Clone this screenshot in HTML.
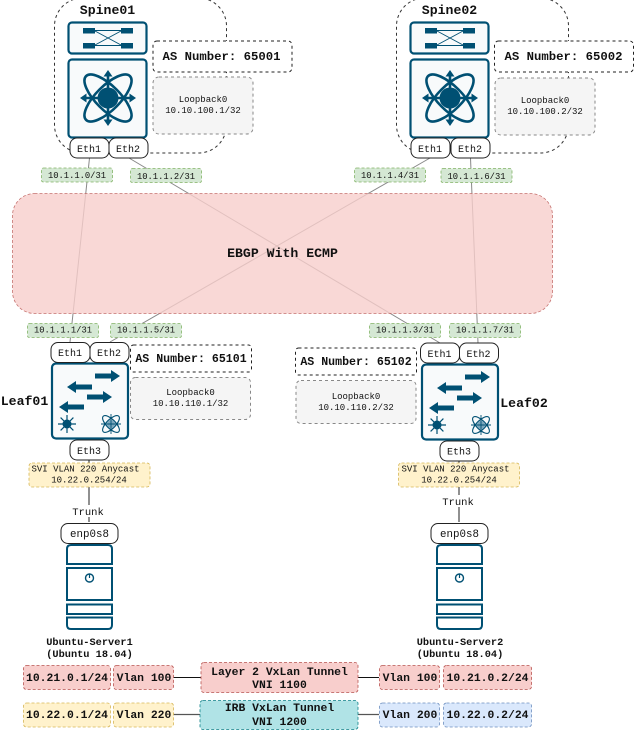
<!DOCTYPE html>
<html><head><meta charset="utf-8"><style>
html,body{margin:0;padding:0;background:#fff;width:635px;height:730px;overflow:hidden}
svg{display:block}
text{font-family:"Liberation Mono",monospace;text-anchor:middle;fill:#111}
.b{font-weight:bold;fill:#111}
.ic{fill:#005073;stroke:none}
.il{fill:none;stroke:#005073}
.eth{fill:#fff;stroke:#222;stroke-width:1}
.as{fill:#fff;stroke:#222;stroke-width:1;stroke-dasharray:3 3}
.lb{fill:#f5f5f5;stroke:#888;stroke-width:1;stroke-dasharray:3 3}
.g{fill:#d5e8d4;stroke:#82b366;stroke-width:.8;stroke-dasharray:3 2}
.y{fill:#fff2cc;stroke:#d6b656;stroke-width:.8;stroke-dasharray:3 2}
.p{fill:#f8cecc;stroke:#b85450;stroke-width:.8;stroke-dasharray:3 2}
.t{fill:#b0e3e6;stroke:#0e8088;stroke-width:.8;stroke-dasharray:3 2}
.u{fill:#dae8fc;stroke:#6c8ebf;stroke-width:.8;stroke-dasharray:3 2}
</style></head><body>
<svg width="635" height="730" viewBox="0 0 635 730" xmlns="http://www.w3.org/2000/svg">
<defs>
<g id="spine">
<rect x="68.500" y="22.500" width="78" height="31" rx="3.500" fill="#f8fafb" stroke="#005073" stroke-width="2.200"/>
<rect x="83" y="28" width="12" height="5.500" class="ic"/><rect x="83" y="43" width="12" height="5.500" class="ic"/>
<rect x="121" y="28" width="12" height="5.500" class="ic"/><rect x="121" y="43" width="12" height="5.500" class="ic"/>
<path d="M95 30.500H121M95 45.500H121M95 31L121 45M95 45L121 31" class="il" stroke-width=".9"/>
<rect x="68.500" y="59.500" width="78" height="78" rx="3.500" fill="#f8fafb" stroke="#005073" stroke-width="2.200"/>
<g transform="translate(108 98)">
<ellipse rx="31" ry="12" transform="rotate(45)" class="il" stroke-width="2.600"/>
<ellipse rx="31" ry="12" transform="rotate(-45)" class="il" stroke-width="2.600"/>
<circle r="10.500" class="ic"/>
<path d="M-23 0H23M0 -23V23" class="il" stroke-width="2.600"/>
<path d="M-28 0L-21.500 -4.500V4.500ZM28 0L21.500 -4.500V4.500ZM0 -28L-4.500 -21.500H4.500ZM0 28L-4.500 21.500H4.500Z" class="ic"/>
</g>
</g>
<g id="leaf">
<rect x="52" y="363.500" width="76" height="75" rx="4" fill="#f8fafb" stroke="#005073" stroke-width="2.200"/>
<path d="M95 373.500H111V370L120 376L111 382V378.500H95ZM92 384.500H76V381L67 387L76 393V389.500H92ZM87 394.500H103V391L112 397L103 403V399.500H87ZM84 404.500H68V401L59 407L68 413V409.500H84Z" class="ic"/>
<circle cx="67" cy="424" r="4.500" class="ic"/>
<path d="M58 424H76M67 415V433M60.600 417.600L73.400 430.400M60.600 430.400L73.400 417.600" class="il" stroke-width="1.200"/>
<g transform="translate(111 424)">
<ellipse rx="11" ry="4.500" transform="rotate(45)" class="il" stroke-width="1.100"/>
<ellipse rx="11" ry="4.500" transform="rotate(-45)" class="il" stroke-width="1.100"/>
<circle r="4" fill="#7ba7bd"/>
<path d="M-10 0H10M0 -10V10" class="il" stroke-width=".9"/>
</g>
</g>
<g id="server">
<path d="M67 564V549Q67 545 71 545H108Q112 545 112 549V564ZM67 568H112V600H67ZM67 604.500H112V614H67ZM67 617.500H112V625Q112 629 108 629H71Q67 629 67 625Z" fill="#fff" stroke="#005073" stroke-width="2"/>
<circle cx="89.500" cy="578" r="4" fill="none" stroke="#005073" stroke-width="1.400"/>
<path d="M89.500 574V578" class="il" stroke-width="1.200"/>
</g>
</defs>

<!-- spine group outlines -->
<rect x="54.500" y="-2" width="172" height="155" rx="28" fill="#fff" stroke="#333" stroke-width="1" stroke-dasharray="3 3"/>
<rect x="396.500" y="-2" width="172" height="155" rx="28" fill="#fff" stroke="#333" stroke-width="1" stroke-dasharray="3 3"/>

<!-- fabric: links pass beneath the translucent EBGP region -->
<path d="M89.500 158L70 342M129 158L440 343M430 158L110 342M470.500 158L478 343" fill="none" stroke="#888" stroke-width="1"/>
<rect x="12.500" y="193.500" width="540" height="120" rx="22" fill="#f8cecc" fill-opacity=".8" stroke="#b85450" stroke-opacity=".8" stroke-width=".8" stroke-dasharray="3 2"/>
<text x="282.500" y="257" font-size="13.200" class="b">EBGP With ECMP</text>

<!-- spines -->
<use href="#spine"/>
<use href="#spine" x="342"/>
<text x="107.500" y="14" font-size="13.200" class="b">Spine01</text>
<text x="449.500" y="14" font-size="13.200" class="b">Spine02</text>
<rect x="153" y="41" width="139" height="31" rx="4" class="as"/>
<text x="221.500" y="60" font-size="12.300" class="b">AS Number: 65001</text>
<rect x="494.500" y="41" width="139" height="31" rx="4" class="as"/>
<text x="563.500" y="60" font-size="12.300" class="b">AS Number: 65002</text>
<rect x="153" y="77" width="100" height="57" rx="6" class="lb"/>
<text x="203" y="102" font-size="9">Loopback0</text><text x="203" y="113" font-size="9">10.10.100.1/32</text>
<rect x="495" y="78" width="100" height="57" rx="6" class="lb"/>
<text x="545" y="103" font-size="9">Loopback0</text><text x="545" y="114" font-size="9">10.10.100.2/32</text>

<rect x="70" y="138" width="39" height="20" rx="7" class="eth"/><text x="89" y="152" font-size="10">Eth1</text>
<rect x="109" y="138" width="39" height="20" rx="7" class="eth"/><text x="128" y="152" font-size="10">Eth2</text>
<rect x="411" y="138" width="39" height="20" rx="7" class="eth"/><text x="430" y="152" font-size="10">Eth1</text>
<rect x="451" y="138" width="39" height="20" rx="7" class="eth"/><text x="470" y="152" font-size="10">Eth2</text>

<!-- IP tags -->
<rect x="41.500" y="168" width="71" height="14" rx="2" class="g"/><text x="77" y="178" font-size="8.800">10.1.1.0/31</text>
<rect x="130.500" y="168.500" width="71" height="14" rx="2" class="g"/><text x="166" y="179" font-size="8.800">10.1.1.2/31</text>
<rect x="354.500" y="168" width="71" height="14" rx="2" class="g"/><text x="390" y="178" font-size="8.800">10.1.1.4/31</text>
<rect x="441" y="168.500" width="71" height="14" rx="2" class="g"/><text x="476.500" y="179" font-size="8.800">10.1.1.6/31</text>
<rect x="27.500" y="323.500" width="71" height="14" rx="2" class="g"/><text x="63" y="332.500" font-size="8.800">10.1.1.1/31</text>
<rect x="110.500" y="323.500" width="71" height="14" rx="2" class="g"/><text x="146" y="332.500" font-size="8.800">10.1.1.5/31</text>
<rect x="369.500" y="323.500" width="71" height="14" rx="2" class="g"/><text x="405" y="332.500" font-size="8.800">10.1.1.3/31</text>
<rect x="449.500" y="323.500" width="71" height="14" rx="2" class="g"/><text x="485" y="332.500" font-size="8.800">10.1.1.7/31</text>

<!-- leaves -->
<path d="M89 460V522M459 461V522" stroke="#222" stroke-width="1" fill="none"/>
<use href="#leaf"/>
<use href="#leaf" x="370" y="1"/>
<text x="24.500" y="405" font-size="13.200" class="b">Leaf01</text>
<text x="524" y="407" font-size="13.200" class="b">Leaf02</text>
<rect x="51" y="342.500" width="39" height="20" rx="7" class="eth"/><text x="70" y="356" font-size="10">Eth1</text>
<rect x="90" y="342.500" width="39" height="20" rx="7" class="eth"/><text x="109" y="356" font-size="10">Eth2</text>
<rect x="420.500" y="343" width="39" height="20" rx="7" class="eth"/><text x="439.500" y="357" font-size="10">Eth1</text>
<rect x="459.500" y="343" width="39" height="20" rx="7" class="eth"/><text x="478.500" y="357" font-size="10">Eth2</text>
<rect x="70" y="440" width="39" height="20" rx="7" class="eth"/><text x="89" y="454" font-size="10">Eth3</text>
<rect x="440" y="441" width="39" height="20" rx="7" class="eth"/><text x="459" y="454.500" font-size="10">Eth3</text>

<rect x="130.500" y="345" width="121" height="27" rx="3" class="as"/>
<text x="191" y="362" font-size="11.600" class="b">AS Number: 65101</text>
<rect x="295.500" y="348" width="121" height="27" rx="3" class="as"/>
<text x="356" y="365" font-size="11.600" class="b">AS Number: 65102</text>
<rect x="130.500" y="377.500" width="120" height="42" rx="5" class="lb"/>
<text x="190.500" y="395" font-size="9">Loopback0</text><text x="190.500" y="406" font-size="9">10.10.110.1/32</text>
<rect x="296" y="380.500" width="120" height="43" rx="5" class="lb"/>
<text x="356" y="399" font-size="9">Loopback0</text><text x="356" y="410" font-size="9">10.10.110.2/32</text>

<rect x="29" y="463" width="121" height="24" rx="3" class="y"/>
<text x="85.500" y="471.500" font-size="9">SVI VLAN 220 Anycast</text><text x="89" y="482.500" font-size="9">10.22.0.254/24</text>
<rect x="398.500" y="463" width="121" height="24" rx="3" class="y"/>
<text x="455.500" y="471.500" font-size="9">SVI VLAN 220 Anycast</text><text x="459" y="482.500" font-size="9">10.22.0.254/24</text>

<!-- Trunk labels -->
<rect x="70" y="505" width="36" height="12" fill="#fff"/>
<text x="88" y="515" font-size="10.500">Trunk</text>
<rect x="440" y="495" width="36" height="12" fill="#fff"/>
<text x="458" y="505" font-size="10.500">Trunk</text>

<!-- servers -->
<use href="#server"/>
<use href="#server" x="370"/>
<rect x="61" y="523.500" width="57" height="20" rx="7" class="eth"/><text x="89.500" y="537" font-size="10.800">enp0s8</text>
<rect x="431" y="523.500" width="57" height="20" rx="7" class="eth"/><text x="459.500" y="537" font-size="10.800">enp0s8</text>
<text x="89.500" y="645" font-size="10.300" class="b">Ubuntu-Server1</text><text x="89.500" y="657" font-size="10.300" class="b">(Ubuntu 18.04)</text>
<text x="460" y="645" font-size="10.300" class="b">Ubuntu-Server2</text><text x="460" y="657" font-size="10.300" class="b">(Ubuntu 18.04)</text>

<!-- bottom table -->
<path d="M173 677.500H201M358 677.500H379" stroke="#111" stroke-width="1" fill="none"/>
<path d="M173 714.500H200M358 714.500H379" stroke="#555" stroke-width="1.200" fill="none"/>
<rect x="23.500" y="665.500" width="87" height="24" rx="3" class="p"/><text x="67" y="681" font-size="11.400" class="b">10.21.0.1/24</text>
<rect x="113.500" y="665.500" width="60" height="24" rx="3" class="p"/><text x="144" y="681" font-size="11.400" class="b">Vlan 100</text>
<rect x="201" y="662.500" width="157" height="30" rx="3" class="p"/>
<text x="279.500" y="675" font-size="11.400" class="b">Layer 2 VxLan Tunnel</text><text x="279.500" y="688" font-size="11.400" class="b">VNI 1100</text>
<rect x="379.500" y="665.500" width="60" height="24" rx="3" class="p"/><text x="410" y="681" font-size="11.400" class="b">Vlan 100</text>
<rect x="443.500" y="665.500" width="88" height="24" rx="3" class="p"/><text x="487.500" y="681" font-size="11.400" class="b">10.21.0.2/24</text>

<rect x="23.500" y="703" width="87" height="24" rx="3" class="y"/><text x="67" y="718" font-size="11.400" class="b">10.22.0.1/24</text>
<rect x="113.500" y="703" width="60" height="24" rx="3" class="y"/><text x="144" y="718" font-size="11.400" class="b">Vlan 220</text>
<rect x="200" y="700.500" width="158" height="29" rx="3" class="t"/>
<text x="279.500" y="711" font-size="11.400" class="b">IRB VxLan Tunnel</text><text x="279.500" y="725" font-size="11.400" class="b">VNI 1200</text>
<rect x="379.500" y="703" width="60" height="24" rx="3" class="u"/><text x="410" y="718" font-size="11.400" class="b">Vlan 200</text>
<rect x="443.500" y="703" width="88" height="24" rx="3" class="u"/><text x="487.500" y="718" font-size="11.400" class="b">10.22.0.2/24</text>
</svg>
</body></html>
